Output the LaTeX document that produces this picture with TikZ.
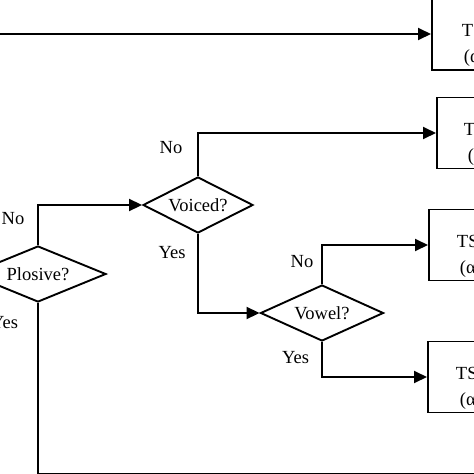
\documentclass[tikz,border=0pt]{standalone}
\usepackage{fontspec}
\setmainfont{Liberation Serif}
\usetikzlibrary{shapes.geometric,arrows.meta}
\begin{document}
\begin{tikzpicture}[x=1pt,y=-1pt, line width=1.9pt,
  every node/.style={font=\fontsize{18.5}{22}\selectfont, inner sep=0pt},
  decision/.style={draw, diamond, aspect=2.4},
  tsbox/.style={draw, rectangle, minimum width=100pt, minimum height=71pt, anchor=west},
  lbl/.style={anchor=center},
  txt/.style={anchor=base west},
  arr/.style={-{Triangle[length=13pt,width=12pt]}}]
\useasboundingbox (0,0) rectangle (474,474);
\clip (0,0) rectangle (474,474);
% boxes
\node[tsbox, minimum height=72pt] (box1) at (431,34) {};
\node[tsbox] (box2) at (436,133) {};
\node[tsbox] (box3) at (428,245) {};
\node[tsbox] (box4) at (427,377) {};
\node[txt] (t1a) at ([shift={(30,2)}]box1.west) {TS};
\node[txt] (t1b) at ([shift={(32,28)}]box1.west) {(α};
\node[txt] (t2a) at ([shift={(27,2)}]box2.west) {TS};
\node[txt] (t2b) at ([shift={(31,28)}]box2.west) {(α};
\node[txt] (t3a) at ([shift={(28,2)}]box3.west) {TS};
\node[txt] (t3b) at ([shift={(31,28)}]box3.west) {(α};
\node[txt] (t4a) at ([shift={(28,2)}]box4.west) {TS};
\node[txt] (t4b) at ([shift={(32,28)}]box4.west) {(α};
% decisions
\node[decision, minimum width=136pt, minimum height=56pt] (plosive) at (38,274) {Plosive?};
\node[decision, minimum width=110pt, minimum height=56pt] (voiced) at (198,205) {Voiced?};
\node[decision, minimum width=123pt, minimum height=56pt] (vowel) at (322,313) {Vowel?};
% labels
\node[lbl] (lno1) at (13,219) {No};
\node[lbl] (lyes1) at (4.5,323) {Yes};
\node[lbl] (lno2) at (171,148) {No};
\node[lbl] (lyes2) at (172,253) {Yes};
\node[lbl] (lno3) at (302,261.5) {No};
\node[lbl] (lyes3) at (295.5,358) {Yes};
% connectors
\coordinate (start) at (-10,34);
\coordinate (bottomend) at (520,474);
\draw[arr] (start) -- (box1.west);
\draw[arr] (plosive.north) |- (voiced.west);
\draw[arr] (voiced.north) |- (box2.west);
\draw[arr] (voiced.south) |- (vowel.west);
\draw[arr] (vowel.north) |- (box3.west);
\draw[arr] (vowel.south) |- (box4.west);
\draw (plosive.south) |- (bottomend);
\end{tikzpicture}
\end{document}
